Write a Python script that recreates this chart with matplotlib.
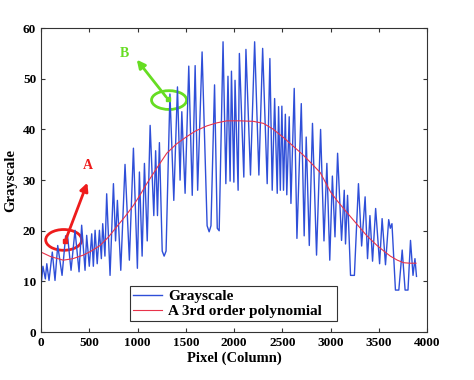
import matplotlib
matplotlib.use("Agg")
from matplotlib import pyplot as plt
from matplotlib.patches import Ellipse

plt.rcParams['font.family'] = ['Liberation Serif', 'DejaVu Serif']
plt.rcParams['font.weight'] = 'bold'

# peaks / troughs of the grayscale profile
pixel = [0, 20, 45, 60, 83, 117, 145, 173, 218, 255, 275, 311, 352, 394, 421,
         456, 473, 500, 525, 542, 560, 582, 605, 625, 639, 662, 680, 715, 750,
         772, 791, 826, 870, 915, 957, 998, 1019, 1047, 1071, 1100, 1130, 1168,
         1187, 1206, 1226, 1255, 1275, 1295, 1335, 1375, 1413, 1440, 1458, 1492,
         1530, 1566, 1596, 1622, 1668, 1720, 1741, 1760, 1797, 1825, 1845, 1885,
         1914, 1936, 1958, 1972, 1997, 2009, 2041, 2054, 2100, 2122, 2169, 2212,
         2256, 2295, 2342, 2370, 2394, 2419, 2446, 2460, 2478, 2494, 2511, 2530,
         2545, 2570, 2588, 2622, 2650, 2695, 2725, 2746, 2778, 2811, 2853, 2895,
         2930, 2960, 2990, 3017, 3044, 3071, 3112, 3140, 3153, 3174, 3205, 3245,
         3287, 3320, 3356, 3381, 3406, 3433, 3465, 3506, 3532, 3567, 3600, 3617,
         3634, 3670, 3705, 3740, 3770, 3800, 3826, 3852, 3872, 3888]
gray = [9, 13, 10.5, 13.5, 10.2, 15.8, 10.2, 17.1, 11.2, 19, 19, 12.2, 20.1, 11.9,
        21.1, 12.2, 19.1, 13, 19.4, 13, 20.1, 13.5, 20.1, 14.5, 21.4, 15, 27.3,
        11.2, 29.3, 18, 26, 12.2, 33.1, 14.2, 36.3, 12.6, 31.6, 15, 33.3, 18,
        40.8, 23, 35.8, 23, 37.4, 16, 15, 16, 47, 26, 48.4, 30, 43.5, 27.4, 52.5,
        27, 52.6, 28, 55.3, 21, 19.8, 21, 48.8, 20.5, 20, 57.3, 29.3, 50.5, 29.8,
        51.5, 29.6, 49.7, 28, 55, 30.6, 55.8, 31, 57.3, 31, 56, 29.3, 54, 28, 46.1,
        27.4, 44.5, 28, 44.6, 28, 43, 27.1, 42.5, 25.4, 48.1, 18.5, 45.1, 19, 38.5,
        17.1, 41.2, 15.2, 40, 18, 33.3, 14.2, 30.8, 18.8, 35.3, 18.1, 28, 17.4, 27,
        11.2, 11.2, 29.3, 17, 26.7, 14.5, 23, 14, 24.4, 13.5, 22.4, 13.3, 22.2,
        20.5, 21.4, 8.3, 8.3, 16.2, 8.3, 8.3, 18.1, 11.2, 14.5, 11]

# fitted curve
fit_x = [0, 100, 231, 330, 438, 520, 611, 700, 784, 870, 957, 1030, 1095, 1200,
         1302, 1400, 1510, 1600, 1717, 1820, 1924, 2062, 2200, 2304, 2400, 2511,
         2600, 2718, 2800, 2891, 3000, 3064, 3150, 3271, 3370, 3479, 3550, 3617,
         3690, 3754, 3820, 3883]
fit_y = [15.8, 14.9, 14.2, 14.5, 15.2, 16, 17.1, 18.8, 20.8, 22.8, 25, 27.2,
         29.3, 32.4, 35.3, 37.1, 38.6, 39.7, 40.7, 41.3, 41.7, 41.7, 41.6, 41.2,
         40.1, 38.4, 36.9, 34.9, 33.3, 31.5, 27.6, 26, 24, 21.3, 19.1, 17.1, 16,
         15, 14.2, 13.7, 13.6, 13.6]

xticks = [0, 500, 1000, 1500, 2000, 2500, 3000, 3500, 4000]
yticks = [0, 10, 20, 30, 40, 50, 60]

fig = plt.figure(figsize=(4.74, 3.8), dpi=100)
ax = fig.add_axes([0.0865, 0.126, 0.815, 0.8])

ax.plot(pixel, gray, color='#2f4fd8', lw=1.0, label='Grayscale')
ax.plot(fit_x, fit_y, color='#e8334a', lw=0.8, label='A 3rd order polynomial')

red = '#ee1c1c'
green = '#66dd22'
ax.add_patch(Ellipse((235, 18.2), 373, 4.1, fill=False, ec=red, lw=2))
ax.plot([249], [17.9], 's', color=red, ms=2.5)
ax.annotate('', xy=(490, 30), xytext=(249, 17.9),
            arrowprops=dict(arrowstyle='-|>', color=red, lw=2, mutation_scale=12))
ax.text(487, 31.6, 'A', color=red, fontsize=10, fontweight='bold',
        ha='center', va='bottom')

ax.add_patch(Ellipse((1326, 45.8), 363, 3.7, fill=False, ec=green, lw=2))
ax.plot([1313], [46], 's', color=green, ms=2.5)
ax.annotate('', xy=(974, 54.2), xytext=(1313, 46),
            arrowprops=dict(arrowstyle='-|>', color=green, lw=2, mutation_scale=12))
ax.text(863, 55, 'B', color=green, fontsize=10, fontweight='bold',
        ha='center', va='center')

ax.set_xlim(0, 4000)
ax.set_ylim(0, 60)
ax.set_xticks(xticks)
ax.set_xticklabels([str(t) for t in xticks], fontweight='bold', fontsize=9.5)
ax.set_yticks(yticks)
ax.set_yticklabels([str(t) for t in yticks], fontweight='bold', fontsize=9.5)
ax.tick_params(direction='in', top=True, right=True, length=3, color='#333333')
for s in ax.spines.values():
    s.set_color('#333333')
ax.set_xlabel('Pixel (Column)', fontsize=10.5, fontweight='bold', labelpad=2)
ax.set_ylabel('Grayscale', fontsize=10.5, fontweight='bold', labelpad=4)

leg = ax.legend(loc='lower left', bbox_to_anchor=(0.231, 0.036, 0.536, 0.138),
                mode='expand', prop={'size': 11, 'weight': 'bold'},
                fancybox=False, framealpha=1, borderpad=0.2, labelspacing=0.1,
                handlelength=1.9, handletextpad=0.4, borderaxespad=0)
leg.get_frame().set_edgecolor('#333333')
leg.get_frame().set_linewidth(0.8)

fig.savefig('out.png', dpi=100)
